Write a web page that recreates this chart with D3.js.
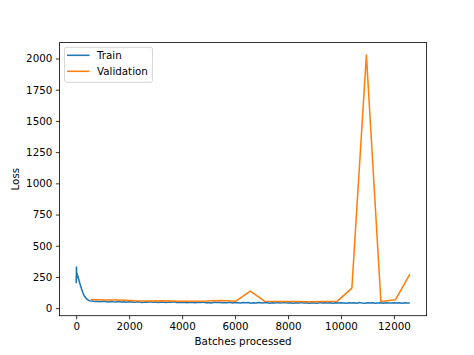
<!DOCTYPE html>
<html>
<head>
<meta charset="utf-8">
<script src="https://cdn.jsdelivr.net/npm/d3@7"></script>
<style>
  body { margin: 0; background: #fff; }
  text { font-family: "DejaVu Sans", sans-serif; fill: #000; }
</style>
</head>
<body>
<svg id="chart"></svg>
<script>
// Figure size and axes box (matplotlib-like defaults)
const width = 474;
const height = 355;
const margin = { left: 59.5, right: 47.4, top: 42.6, bottom: 39.3 };

// Train loss: early batches, then every 100 batches from 600
const trainEarlyX = [0, 10, 20, 30, 50, 75, 100, 150, 200, 250, 300, 350, 400, 450, 500];
const trainEarlyY = [200, 330, 240, 280, 265, 250, 225, 190, 155, 125, 100, 85, 72, 65, 60];
const trainStart = 600;
const trainStep = 100;
const trainY = [
  57, 54, 56, 52, 55, 53, 50, 54, 51, 49, 53, 50, 52, 48, 51,
  50, 47, 51, 49, 46, 50, 48, 52, 47, 49, 45, 50, 48, 46, 49, 47, 51, 45, 48, 46,
  47, 44, 48, 46, 43, 47, 45, 49, 44, 46, 42, 47, 45, 48, 43, 46, 44, 47, 42, 45,
  44, 41, 46, 43, 45, 40, 44, 42, 46, 41, 43, 45, 40, 44, 42, 45, 41, 43, 46, 42,
  43, 40, 44, 42, 45, 41, 43, 39, 44, 42, 40, 45, 41, 43, 42, 44, 40, 43, 41, 44,
  42, 40, 44, 41, 43, 39, 45, 42, 40, 43, 41, 44, 39, 42, 43, 40, 44, 41, 42, 43,
  41, 44, 40, 43, 42, 41
];

// Validation loss, once per epoch
const valX = [548, 1096, 1644, 2192, 2740, 3288, 3836, 4384, 4932, 5480, 6028, 6576,
  7124, 7672, 8220, 8768, 9316, 9864, 10412, 10960, 11508, 12056, 12604];
const valY = [70, 66, 65, 60, 58, 60, 56, 55, 57, 62, 56, 137,
  55, 54, 53, 52, 53, 56, 161, 2028, 54, 67, 273];

const xTicks = [0, 2000, 4000, 6000, 8000, 10000, 12000];
const yTicks = [0, 250, 500, 750, 1000, 1250, 1500, 1750, 2000];

const train = trainEarlyX.map((x, i) => ({ x, y: trainEarlyY[i] }))
  .concat(trainY.map((y, i) => ({ x: trainStart + i * trainStep, y })));
const val = valX.map((x, i) => ({ x, y: valY[i] }));

const svg = d3.select('#chart')
  .attr('width', width)
  .attr('height', height);

// 5% padding like matplotlib autoscale
const all = train.concat(val);
function padded(ext) {
  const p = (ext[1] - ext[0]) * 0.05;
  return [ext[0] - p, ext[1] + p];
}
const x = d3.scaleLinear()
  .domain(padded(d3.extent(all, d => d.x)))
  .range([margin.left, width - margin.right]);
const y = d3.scaleLinear()
  .domain(padded(d3.extent(all, d => d.y)))
  .range([height - margin.bottom, margin.top]);

// Axes
svg.append('g')
  .attr('transform', `translate(0,${height - margin.bottom})`)
  .call(d3.axisBottom(x).tickValues(xTicks).tickFormat(d3.format('d')).tickSizeOuter(0).tickSize(3.6).tickPadding(3.6))
  .call(g => g.select('.domain').remove())
  .call(g => g.selectAll('line').attr('stroke', '#000').attr('stroke-width', 0.8))
  .call(g => g.selectAll('text').attr('font-size', 10.3).attr('font-family', 'DejaVu Sans'));

svg.append('g')
  .attr('transform', `translate(${margin.left},0)`)
  .call(d3.axisLeft(y).tickValues(yTicks).tickFormat(d3.format('d')).tickSizeOuter(0).tickSize(3.6).tickPadding(3.6))
  .call(g => g.select('.domain').remove())
  .call(g => g.selectAll('line').attr('stroke', '#000').attr('stroke-width', 0.8))
  .call(g => g.selectAll('text').attr('font-size', 10.3).attr('font-family', 'DejaVu Sans'));

// Lines
const line = d3.line().x(d => x(d.x)).y(d => y(d.y));

svg.append('clipPath').attr('id', 'clip')
  .append('rect')
  .attr('x', margin.left).attr('y', margin.top)
  .attr('width', width - margin.left - margin.right)
  .attr('height', height - margin.top - margin.bottom);

const plot = svg.append('g').attr('clip-path', 'url(#clip)');

plot.append('path')
  .datum(train)
  .attr('d', line)
  .attr('fill', 'none')
  .attr('stroke', '#1f77b4')
  .attr('stroke-width', 1.55)
  .attr('stroke-linejoin', 'round');

plot.append('path')
  .datum(val)
  .attr('d', line)
  .attr('fill', 'none')
  .attr('stroke', '#ff7f0e')
  .attr('stroke-width', 1.55)
  .attr('stroke-linejoin', 'round');

// Frame
svg.append('rect')
  .attr('x', margin.left).attr('y', margin.top)
  .attr('width', width - margin.left - margin.right)
  .attr('height', height - margin.top - margin.bottom)
  .attr('fill', 'none')
  .attr('stroke', '#000')
  .attr('stroke-width', 0.8);

// Axis labels
svg.append('text')
  .attr('x', (margin.left + width - margin.right) / 2)
  .attr('y', 345)
  .attr('text-anchor', 'middle')
  .attr('font-size', 10.3)
  .text('Batches processed');

svg.append('text')
  .attr('transform', `translate(19,${(margin.top + height - margin.bottom) / 2}) rotate(-90)`)
  .attr('text-anchor', 'middle')
  .attr('font-size', 10.3)
  .text('Loss');

// Legend
const series = [
  { name: 'Train', color: '#1f77b4' },
  { name: 'Validation', color: '#ff7f0e' }
];

const legend = svg.append('g');
legend.append('rect')
  .attr('x', 64.5).attr('y', 47.3)
  .attr('width', 88).attr('height', 35)
  .attr('rx', 2)
  .attr('fill', '#fff')
  .attr('fill-opacity', 0.8)
  .attr('stroke', '#ccc')
  .attr('stroke-width', 0.8);

const item = legend.selectAll('.legend-item')
  .data(series)
  .enter().append('g')
    .attr('class', 'legend-item')
    .attr('transform', (d, i) => `translate(0,${55.3 + i * 16})`);

item.append('line')
  .attr('x1', 67).attr('x2', 89.5)
  .attr('stroke', d => d.color)
  .attr('stroke-width', 1.55);

item.append('text')
  .attr('x', 97)
  .attr('dy', '0.35em')
  .attr('font-size', 10.3)
  .text(d => d.name);
</script>
</body>
</html>
